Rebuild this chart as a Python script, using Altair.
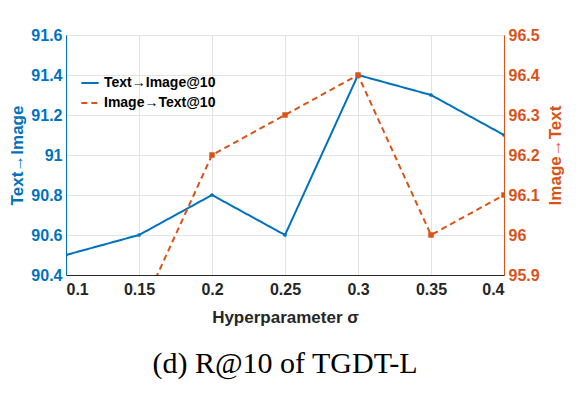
import altair as alt
import pandas as pd

# values
sigma = [0.1, 0.15, 0.2, 0.25, 0.3, 0.35, 0.4]
t2i = [90.5, 90.6, 90.8, 90.6, 91.4, 91.3, 91.1]
i2t_sigma = [0.15, 0.2, 0.25, 0.3, 0.35, 0.4]
i2t = [95.8, 96.2, 96.3, 96.4, 96.0, 96.1]
left_ticks = [90.4, 90.6, 90.8, 91.0, 91.2, 91.4, 91.6]
right_ticks = [95.9, 96.0, 96.1, 96.2, 96.3, 96.4, 96.5]

names = ["Text→Image@10", "Image→Text@10"]
blue = "#0072BD"
orange = "#D95319"

df_t = pd.DataFrame({"sigma": sigma, "val": t2i, "series": names[0]})
df_i = pd.DataFrame({"sigma": i2t_sigma, "val": i2t, "series": names[1]})

x_enc = alt.X("sigma:Q", title="Hyperparameter σ",
              scale=alt.Scale(domain=[0.1, 0.4], nice=False),
              axis=alt.Axis(values=sigma, format="~g", grid=True))
col = alt.Color("series:N", title=None,
                scale=alt.Scale(domain=names, range=[blue, orange]),
                legend=alt.Legend(orient="none", legendX=14, legendY=38,
                                  symbolType="stroke", symbolSize=300,
                                  symbolStrokeWidth=2, labelFontSize=14,
                                  labelFontWeight="bold", labelColor="black",
                                  labelFont="Liberation Sans", rowPadding=3))
dash = alt.StrokeDash("series:N", title=None,
                      scale=alt.Scale(domain=names, range=[[1, 0], [6, 4]]))

left = alt.Chart(df_t).mark_line(
    strokeWidth=2, clip=True,
    point=alt.OverlayMarkDef(filled=True, size=14, color=blue, opacity=1),
).encode(
    x=x_enc,
    y=alt.Y("val:Q", title="Text→Image",
            scale=alt.Scale(domain=[90.4, 91.6], nice=False, zero=False),
            axis=alt.Axis(values=left_ticks, tickCount=7, labelOverlap=False,
                          format="~g", labelColor=blue, titleColor=blue,
                          domainColor=blue, grid=True, orient="left")),
    color=col, strokeDash=dash,
)

right = alt.Chart(df_i).mark_line(
    strokeWidth=2, clip=True,
    point=alt.OverlayMarkDef(shape="square", filled=True, size=30, color=orange,
                             opacity=1, clip=True),
).encode(
    x=x_enc,
    y=alt.Y("val:Q", title="Image→Text",
            scale=alt.Scale(domain=[95.9, 96.5], nice=False, zero=False),
            axis=alt.Axis(values=right_ticks, tickCount=7, labelOverlap=False,
                          format="~g", labelColor=orange, titleColor=orange,
                          domainColor=orange, grid=False, orient="right",
                          titleAngle=270, titlePadding=25)),
    color=col, strokeDash=dash,
)

chart = alt.layer(left, right).resolve_scale(y="independent").properties(
    width=438, height=240,
    padding={"left": 0, "top": 19, "right": 5, "bottom": 5},
    title=alt.TitleParams("(d) R@10 of TGDT-L", orient="bottom", anchor="middle",
                          font="Liberation Serif", fontSize=30, fontWeight="normal",
                          color="black", offset=24),
).configure_view(
    stroke="#262626", strokeWidth=1,
).configure_axis(
    labelFont="Liberation Sans", labelFontSize=16, labelFontWeight="bold",
    titleFont="Liberation Sans", titleFontSize=17, titleFontWeight="bold",
    labelColor="#262626", titleColor="#262626", domainColor="#262626",
    gridColor="#e3e3e3", ticks=False, labelPadding=4, titlePadding=4,
    labelOverlap=False,
).configure_axisX(titlePadding=12, labelPadding=6)

chart.save("out.html", embed_options={"renderer": "svg", "actions": False})
